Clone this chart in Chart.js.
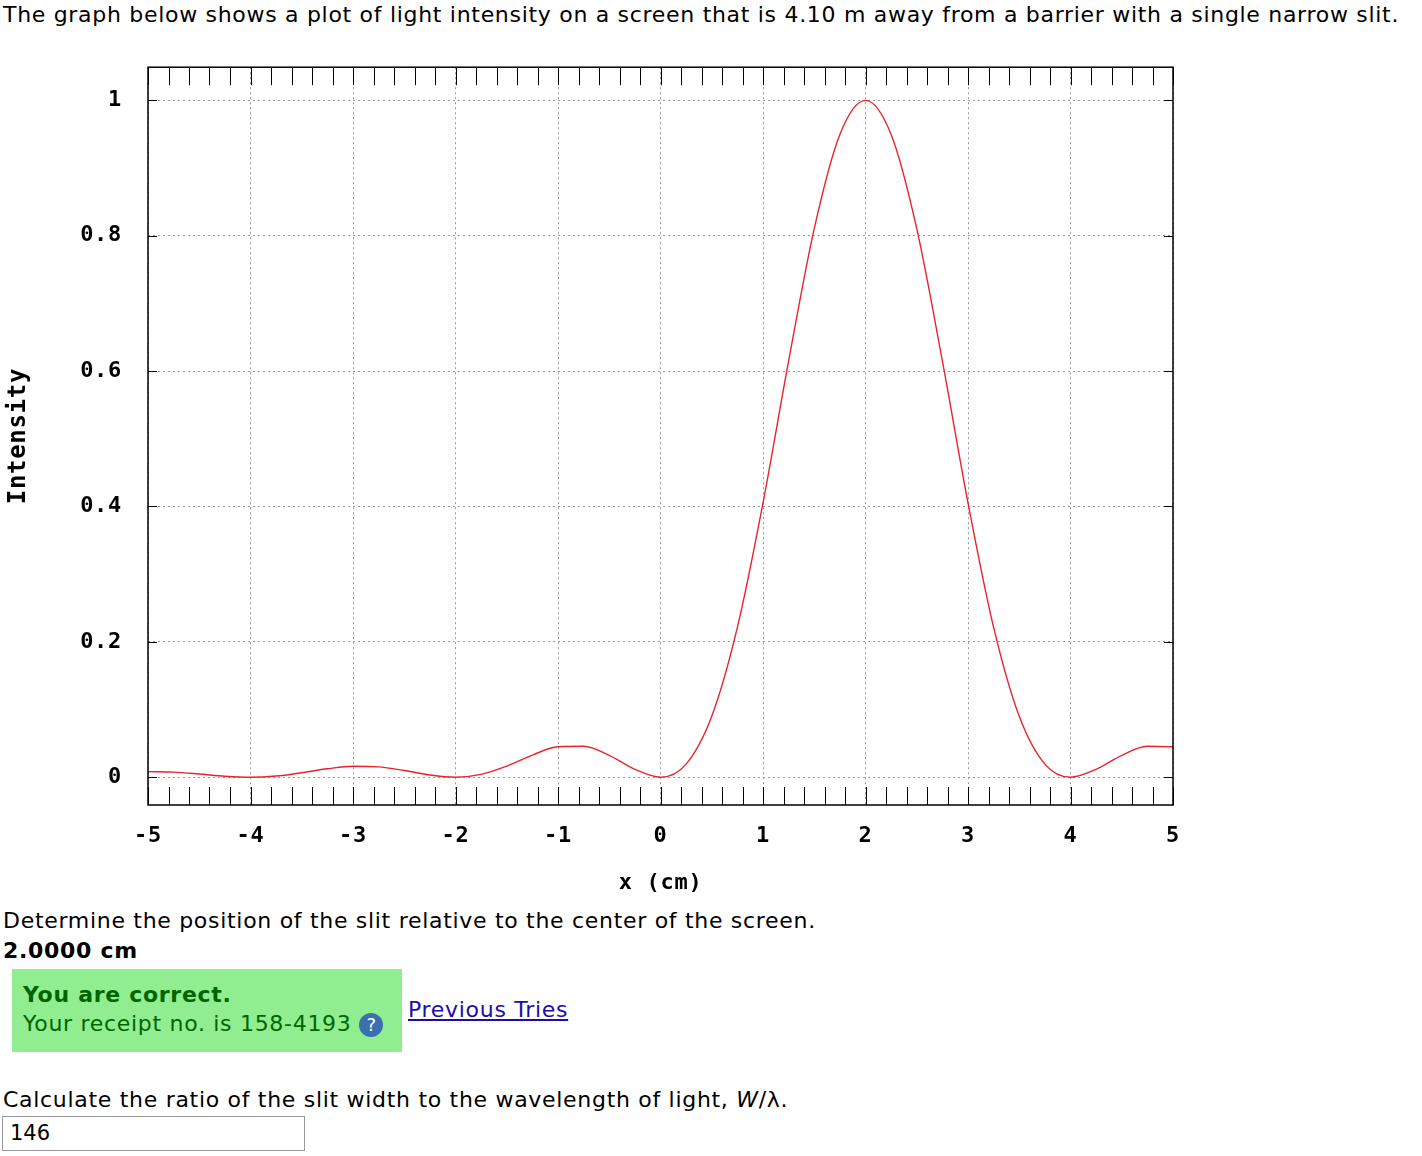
<!DOCTYPE html>
<html><head><meta charset="utf-8">
<script src="https://cdn.jsdelivr.net/npm/chart.js@4"></script>
<style>
body{margin:0;font-family:"DejaVu Sans",sans-serif;font-size:22px;letter-spacing:0.7px;color:#000;background:#fff;width:1422px;height:1156px;position:relative;overflow:hidden}
.t{position:absolute;left:3px;white-space:nowrap}
#box{position:absolute;left:12px;top:969px;width:390px;height:83px;background:#90ee90}
</style></head><body>
<div class="t" style="top:2px">The graph below shows a plot of light intensity on a screen that is 4.10 m away from a barrier with a single narrow slit.</div>
<div style="position:absolute;left:0;top:28px;width:1200px;height:872px"><canvas id="c"></canvas></div>
<div class="t" style="top:908px">Determine the position of the slit relative to the center of the screen.</div>
<div class="t" style="top:938px;font-weight:bold">2.0000 cm</div>
<div id="box"><div style="position:absolute;left:11px;top:13px;color:#006400;font-weight:bold;white-space:nowrap">You are correct.</div>
<div style="position:absolute;left:11px;top:42px;color:#006400;white-space:nowrap">Your receipt no. is 158-4193 <span style="display:inline-block;width:24px;height:24px;border-radius:50%;background:#3a6fb0;color:#fff;font-size:18px;text-align:center;line-height:24px;vertical-align:middle;letter-spacing:0">?</span></div></div>
<div style="position:absolute;left:408px;top:997px;color:#1a0dab;text-decoration:underline">Previous Tries</div>
<div class="t" style="top:1087px">Calculate the ratio of the slit width to the wavelength of light, <i>W</i>/λ.</div>
<div style="position:absolute;left:2px;top:1116px;width:303px;height:35px;border:1px solid #999;font-size:21px;line-height:33px;padding-left:7px;box-sizing:border-box;letter-spacing:0">146</div>
<script>
const xValues=[-5,-4.75,-4.5,-4.25,-4,-3.75,-3.5,-3.25,-3,-2.75,-2.5,-2.25,-2,-1.75,-1.5,-1.25,-1,-0.75,-0.5,-0.25,0,0.25,0.5,0.75,1,1.25,1.5,1.75,2,2.25,2.5,2.75,3,3.25,3.5,3.75,4,4.25,4.5,4.75,5];
const intensity=[0.0083,0.0076,0.0048,0.0015,0,0.0018,0.0067,0.0125,0.0162,0.0153,0.0100,0.0033,0,0.0042,0.0165,0.0328,0.0450,0.0457,0.0324,0.0117,0,0.0194,0.0901,0.2214,0.4053,0.6150,0.8106,0.9496,1,0.9496,0.8106,0.6150,0.4053,0.2214,0.0901,0.0194,0,0.0117,0.0324,0.0457,0.0450];
const xTicks=[-5,-4,-3,-2,-1,0,1,2,3,4,5];
const yTicks=[0,0.2,0.4,0.6,0.8,1];
const mono='"DejaVu Sans Mono",monospace';
const frame={id:'frame',afterDraw(ch){const c=ch.ctx,a=ch.chartArea,xs=ch.scales.x,ys=ch.scales.y;c.save();c.strokeStyle='#000';c.lineWidth=1.5;
c.strokeRect(a.left,a.top,a.right-a.left,a.bottom-a.top);c.lineWidth=1;c.beginPath();
for(let i=0;i<=50;i++){const v=-5+i*0.2;const p=Math.round(xs.getPixelForValue(v))+0.5;c.moveTo(p,a.top);c.lineTo(p,a.top+18);c.moveTo(p,a.bottom);c.lineTo(p,a.bottom-18);}
yTicks.forEach(v=>{const p=Math.round(ys.getPixelForValue(v))+0.5;c.moveTo(a.left,p);c.lineTo(a.left+9,p);c.moveTo(a.right,p);c.lineTo(a.right-9,p);});
c.stroke();c.restore();}};
new Chart(document.getElementById('c'),{type:'line',
data:{datasets:[{data:xValues.map((x,i)=>({x:x,y:intensity[i]})),borderColor:'#e8232b',borderWidth:1.4,pointRadius:0,cubicInterpolationMode:'monotone',fill:false}]},
options:{responsive:true,maintainAspectRatio:false,animation:false,layout:{padding:{top:16,right:27,left:0,bottom:0}},
plugins:{legend:{display:false},tooltip:{enabled:false}},
scales:{
x:{type:'linear',min:-5,max:5,afterBuildTicks:s=>{s.ticks=xTicks.map(v=>({value:v}));},afterFit:s=>{s.height=95;},
grid:{color:'#999',drawTicks:false},border:{display:false,dash:[2,3]},
ticks:{padding:18,color:'#000',font:{family:mono,size:22,weight:'bold'}},
title:{display:true,text:'x (cm)',color:'#000',font:{family:mono,size:22,weight:'bold'},padding:{top:16}}},
y:{type:'linear',min:-0.041,max:1.049,afterBuildTicks:s=>{s.ticks=yTicks.map(v=>({value:v}));},afterFit:s=>{s.width=148;},
grid:{color:'#999',drawTicks:false},border:{display:false,dash:[2,3]},
ticks:{padding:26,color:'#000',font:{family:mono,size:22,weight:'bold'},callback:v=>(v===0?'0':v===1?'1':v.toFixed(1))},
title:{display:true,text:'Intensity',color:'#000',font:{family:mono,size:24,weight:'bold'},padding:{bottom:40}}}}},
plugins:[frame]});
</script></body></html>
